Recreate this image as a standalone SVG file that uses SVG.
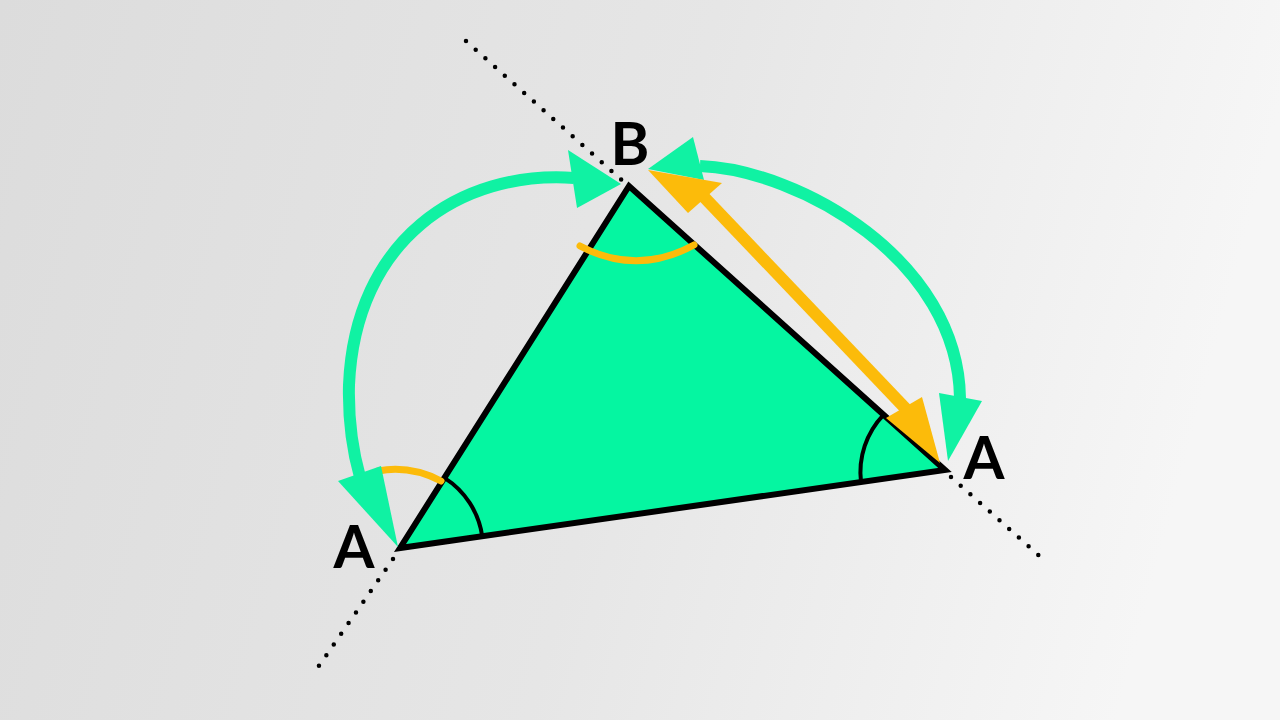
<svg xmlns="http://www.w3.org/2000/svg" width="1280" height="720" viewBox="0 0 1280 720">
  <defs>
    <linearGradient id="bg" x1="0" y1="0" x2="1" y2="0.15">
      <stop offset="0" stop-color="#dcdcdc"/>
      <stop offset="0.55" stop-color="#e6e6e6"/>
      <stop offset="1" stop-color="#f6f6f6"/>
    </linearGradient>
  </defs>
  <style>
    .dots { fill: none; stroke: #000; stroke-width: 4.5; stroke-linecap: round; stroke-dasharray: 0 13; }
    .tri { fill: #05f6a1; stroke: #000; stroke-width: 6; stroke-linejoin: miter; }
    .gline { fill: none; stroke: #10f2a3; stroke-width: 12; }
    .ghead { fill: #10f2a3; }
    .oline { fill: none; stroke: #fcbb0a; stroke-width: 12; }
    .ohead { fill: #fcbb0a; }
    .oarc { fill: none; stroke: #fcbb0a; stroke-width: 7; stroke-linecap: round; }
    .karc { fill: none; stroke: #000; stroke-width: 4; }
    .lbl { font-family: Lato, "Liberation Sans", sans-serif; font-weight: 700; font-size: 59px; fill: #000; text-anchor: middle; }
  </style>
  <rect width="1280" height="720" fill="url(#bg)"/>

  <g id="guides">
    <path class="dots" d="M466,41 L625,183"/>
    <path class="dots" d="M951,477 L1044,560"/>
    <path class="dots" d="M393,559 L314,673"/>
  </g>

  <g id="triangle">
    <polygon class="tri" points="400,548 629,186 945,470"/>
  </g>

  <g id="angles">
    <path class="karc" d="M444.4,477.9 A83,83 0 0 1 482.2,536.2"/>
    <path class="karc" d="M883.5,414.8 A83,83 0 0 0 861,482"/>
    <path class="oarc" d="M580,246 Q637,276 694,245"/>
    <path class="oarc" d="M378,471 Q410,465 441,481"/>
  </g>

  <g id="connectors">
    <path class="gline" d="M574,178 C460,170 355,240 349,385 C348,425 353,452 360,477"/>
    <polygon class="ghead" points="568,150 621,184 577,208"/>
    <polygon class="ghead" points="338,481 381,466 398,547"/>
    <path class="gline" d="M700,166 C800,170 958,260 960,398"/>
    <polygon class="ghead" points="693,137 648,169 704,180"/>
    <polygon class="ghead" points="939,393 982,401 948,461"/>
    <path class="oline" d="M703,196 L906,409"/>
    <polygon class="ohead" points="648,170 722,183 688,213"/>
    <polygon class="ohead" points="940,463 922,397 886,418"/>
  </g>

  <g id="labels">
    <text class="lbl" x="630" y="165">B</text>
    <text class="lbl" x="984" y="479">A</text>
    <text class="lbl" x="354" y="568">A</text>
  </g>
</svg>
